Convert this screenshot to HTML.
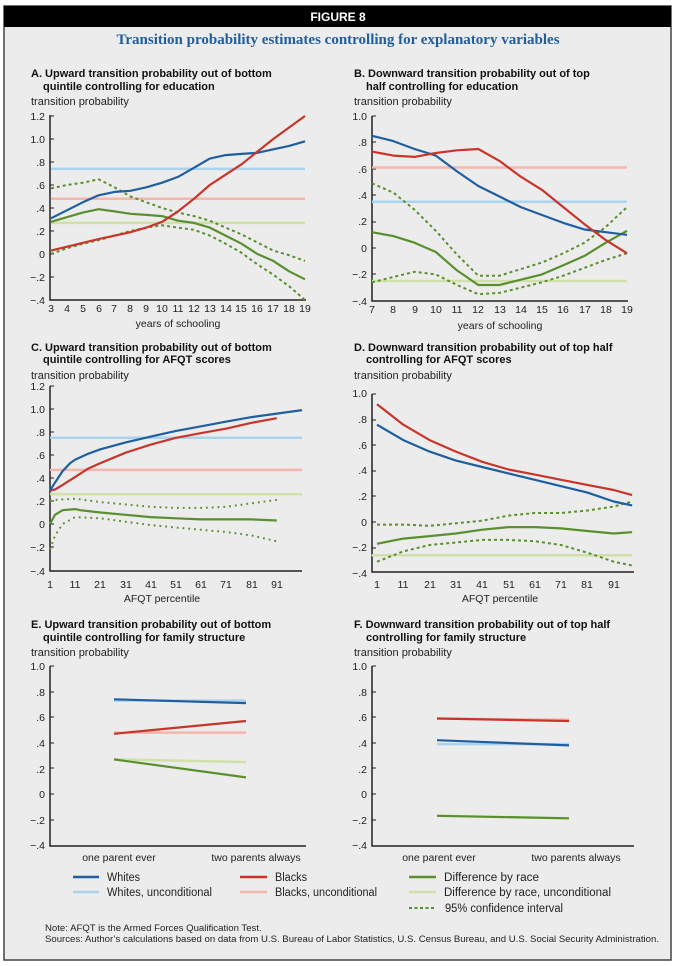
<!DOCTYPE html>
<html><head><meta charset="utf-8"><style>
body{margin:0;background:#fff}
svg{display:block;font-family:"Liberation Sans",Arial,sans-serif}
.t{font-size:11px;font-weight:bold;fill:#111}
.l{font-size:11px;fill:#222}
.y{font-size:10.5px;fill:#222;text-anchor:end}
.x{font-size:10.5px;fill:#222;text-anchor:middle}
</style></head><body>
<svg id="s" width="676" height="966" viewBox="0 0 676 966">
<rect x="4" y="6" width="667" height="954" fill="#ececec" stroke="#444" stroke-width="1.5"/>
<rect x="4" y="6" width="667" height="21" fill="#000"/>
<text x="338" y="21" text-anchor="middle" style="font-size:12px;font-weight:bold;fill:#fff">FIGURE 8</text>
<text x="338" y="44" text-anchor="middle" style="font-family:'Liberation Serif',serif;font-size:15px;font-weight:bold;fill:#1f5fa0">Transition probability estimates controlling for explanatory variables</text>

<text class="t" x="31" y="77">A. Upward transition probability out of bottom</text>
<text class="t" x="43" y="90">quintile controlling for education</text>
<text class="l" x="31" y="105">transition probability</text>
<text class="t" x="354" y="77">B. Downward transition probability out of top</text>
<text class="t" x="366" y="90">half controlling for education</text>
<text class="l" x="354" y="105">transition probability</text>
<text class="t" x="31" y="351">C. Upward transition probability out of bottom</text>
<text class="t" x="43" y="363">quintile controlling for AFQT scores</text>
<text class="l" x="31" y="379">transition probability</text>
<text class="t" x="354" y="351">D. Downward transition probability out of top half</text>
<text class="t" x="366" y="363">controlling for AFQT scores</text>
<text class="l" x="354" y="379">transition probability</text>
<text class="t" x="31" y="628">E. Upward transition probability out of bottom</text>
<text class="t" x="43" y="641">quintile controlling for family structure</text>
<text class="l" x="31" y="656">transition probability</text>
<text class="t" x="354" y="628">F. Downward transition probability out of top half</text>
<text class="t" x="366" y="641">controlling for family structure</text>
<text class="l" x="354" y="656">transition probability</text>

<g class="y"><text x="45" y="120">1.2</text><text x="45" y="143">1.0</text><text x="45" y="166">.8</text><text x="45" y="189">.6</text><text x="45" y="212">.4</text><text x="45" y="235">.2</text><text x="45" y="258">0</text><text x="45" y="281">−.2</text><text x="45" y="304">−.4</text></g>
<g class="x"><text x="51" y="312">3</text><text x="67" y="312">4</text><text x="83" y="312">5</text><text x="99" y="312">6</text><text x="114" y="312">7</text><text x="130" y="312">8</text><text x="146" y="312">9</text><text x="162" y="312">10</text><text x="178" y="312">11</text><text x="194" y="312">12</text><text x="210" y="312">13</text><text x="226" y="312">14</text><text x="241" y="312">15</text><text x="257" y="312">16</text><text x="273" y="312">17</text><text x="289" y="312">18</text><text x="305" y="312">19</text><text x="178" y="327">years of schooling</text></g>
<g class="y"><text x="367" y="120">1.0</text><text x="367" y="146">.8</text><text x="367" y="173">.6</text><text x="367" y="199">.4</text><text x="367" y="225">.2</text><text x="367" y="252">0</text><text x="367" y="278">−.2</text><text x="367" y="305">−.4</text></g>
<g class="x"><text x="372" y="313">7</text><text x="393" y="313">8</text><text x="415" y="313">9</text><text x="436" y="313">10</text><text x="457" y="313">11</text><text x="478" y="313">12</text><text x="500" y="313">13</text><text x="521" y="313">14</text><text x="542" y="313">15</text><text x="563" y="313">16</text><text x="585" y="313">17</text><text x="606" y="313">18</text><text x="627" y="313">19</text><text x="500" y="329">years of schooling</text></g>
<g class="y"><text x="45" y="390">1.2</text><text x="45" y="413">1.0</text><text x="45" y="436">.8</text><text x="45" y="459">.6</text><text x="45" y="482">.4</text><text x="45" y="505">.2</text><text x="45" y="528">0</text><text x="45" y="551">−.2</text><text x="45" y="575">−.4</text></g>
<g class="x"><text x="50" y="588">1</text><text x="75" y="588">11</text><text x="100" y="588">21</text><text x="126" y="588">31</text><text x="151" y="588">41</text><text x="176" y="588">51</text><text x="201" y="588">61</text><text x="226" y="588">71</text><text x="252" y="588">81</text><text x="277" y="588">91</text><text x="162" y="602">AFQT percentile</text></g>
<g class="y"><text x="367" y="397">1.0</text><text x="367" y="423">.8</text><text x="367" y="449">.6</text><text x="367" y="474">.4</text><text x="367" y="500">.2</text><text x="367" y="526">0</text><text x="367" y="551">−.2</text><text x="367" y="577">−.4</text></g>
<g class="x"><text x="377" y="588">1</text><text x="403" y="588">11</text><text x="430" y="588">21</text><text x="456" y="588">31</text><text x="482" y="588">41</text><text x="509" y="588">51</text><text x="535" y="588">61</text><text x="561" y="588">71</text><text x="587" y="588">81</text><text x="614" y="588">91</text><text x="500" y="602">AFQT percentile</text></g>
<g class="y"><text x="45" y="670">1.0</text><text x="45" y="696">.8</text><text x="45" y="721">.6</text><text x="45" y="747">.4</text><text x="45" y="773">.2</text><text x="45" y="798">0</text><text x="45" y="824">−.2</text><text x="45" y="849">−.4</text></g>
<g class="x"><text x="119" y="861">one parent ever</text><text x="256" y="861">two parents always</text></g>
<g class="y"><text x="367" y="670">1.0</text><text x="367" y="696">.8</text><text x="367" y="721">.6</text><text x="367" y="747">.4</text><text x="367" y="773">.2</text><text x="367" y="798">0</text><text x="367" y="824">−.2</text><text x="367" y="849">−.4</text></g>
<g class="x"><text x="439" y="861">one parent ever</text><text x="576" y="861">two parents always</text></g>

<g stroke-width="2.5">
<line x1="73" y1="877" x2="99" y2="877" stroke="#1f5fa0"/>
<line x1="73" y1="892" x2="99" y2="892" stroke="#a9d3ef"/>
<line x1="240" y1="877" x2="267" y2="877" stroke="#c8352b"/>
<line x1="240" y1="892" x2="267" y2="892" stroke="#f4b6ad"/>
<line x1="409" y1="877" x2="436" y2="877" stroke="#5a8f2e"/>
<line x1="409" y1="892" x2="436" y2="892" stroke="#cfe0a8"/>
<line x1="409" y1="908" x2="436" y2="908" stroke="#5a8f2e" stroke-width="2" stroke-dasharray="3,2.5"/>
</g>
<g class="l" style="font-size:11.5px">
<text x="107" y="881" textLength="33" lengthAdjust="spacingAndGlyphs">Whites</text>
<text x="107" y="896" textLength="105" lengthAdjust="spacingAndGlyphs">Whites, unconditional</text>
<text x="275" y="881" textLength="32" lengthAdjust="spacingAndGlyphs">Blacks</text>
<text x="275" y="896" textLength="102" lengthAdjust="spacingAndGlyphs">Blacks, unconditional</text>
<text x="444" y="881" textLength="95" lengthAdjust="spacingAndGlyphs">Difference by race</text>
<text x="444" y="896" textLength="167" lengthAdjust="spacingAndGlyphs">Difference by race, unconditional</text>
<text x="445" y="912" textLength="118" lengthAdjust="spacingAndGlyphs">95% confidence interval</text>
</g>
<text x="45" y="931" style="font-size:9.6px;fill:#222">Note: AFQT is the Armed Forces Qualification Test.</text>
<text x="45" y="942" textLength="614" lengthAdjust="spacingAndGlyphs" style="font-size:9.6px;fill:#222">Sources: Author’s calculations based on data from U.S. Bureau of Labor Statistics, U.S. Census Bureau, and U.S. Social Security Administration.</text>
<g id="g"></g>
</svg>
<script>
const B='#1f5fa0',R='#c8352b',G='#5a8f2e',LB='#a9d3ef',LR='#f4b6ad',LG='#cfe0a8';
let out='';
function axes(x0,yt,yb,xr,ys){out+=`<path d="M${x0} ${yt}V${yb}H${xr}" fill="none" stroke="#222" stroke-width="1.5"/>`;
 ys.forEach(y=>out+=`<line x1="${x0}" y1="${y}" x2="${x0+4}" y2="${y}" stroke="#222" stroke-width="1"/>`);}
function line(pts,fx,fy,c,w,dash){const d=pts.map((p,i)=>(i?'L':'M')+fx(p[0]).toFixed(1)+' '+fy(p[1]).toFixed(1)).join('');
 out+=`<path d="${d}" fill="none" stroke="${c}" stroke-width="${w}" stroke-linejoin="round" ${dash?'stroke-dasharray="'+dash+'"':''}/>`;}
function arr(o,a){return a.map((v,i)=>[o+i,v]);}
function P(a){const r=[];for(let i=0;i<a.length;i+=2)r.push([a[i],a[i+1]]);return r;}
{const fx=t=>51+(t-3)*15.875,fy=v=>254-v*115;
axes(50,115,300,306,[116,139,162,185,208,231,254,277]);
line([[3,.74],[19,.74]],fx,fy,LB,2.5);line([[3,.48],[19,.48]],fx,fy,LR,2.5);line([[3,.27],[19,.27]],fx,fy,LG,2.5);
line(arr(3,[.57,.60,.62,.65,.58,.50,.45,.40,.36,.33,.29,.23,.17,.10,.03,-.01,-.06]),fx,fy,G,2,'3,3');
line(arr(3,[0,.05,.09,.12,.16,.20,.23,.25,.23,.21,.16,.09,.01,-.09,-.18,-.28,-.4]),fx,fy,G,2,'3,3');
line(arr(3,[.28,.32,.36,.39,.37,.35,.34,.33,.29,.27,.23,.16,.09,0,-.06,-.15,-.22]),fx,fy,G,2.2);
line(arr(3,[.31,.38,.45,.51,.54,.55,.58,.62,.67,.75,.83,.86,.87,.88,.91,.94,.98]),fx,fy,B,2.2);
line(P([3,.03,6,.13,8,.19,9,.23,10,.28,11,.37,12,.48,13,.60,14,.69,15,.78,16,.89,17,1.0,18,1.1,19,1.2]),fx,fy,R,2.2);}
{const fx=t=>372+(t-7)*21.25,fy=v=>248-v*132;
axes(372,116,301,628,[116,142,169,195,222,248,274]);
line([[7,.61],[19,.61]],fx,fy,LR,2.5);line([[7,.35],[19,.35]],fx,fy,LB,2.5);line([[7,-.25],[19,-.25]],fx,fy,LG,2.5);
line(arr(7,[.49,.42,.29,.13,-.05,-.21,-.21,-.16,-.11,-.04,.04,.16,.31]),fx,fy,G,2,'3,3');
line(arr(7,[-.26,-.22,-.18,-.2,-.28,-.35,-.34,-.30,-.26,-.21,-.15,-.09,-.04]),fx,fy,G,2,'3,3');
line(arr(7,[.12,.09,.04,-.03,-.17,-.28,-.28,-.24,-.20,-.13,-.06,.04,.13]),fx,fy,G,2.2);
line(arr(7,[.85,.81,.75,.70,.58,.47,.39,.31,.25,.19,.14,.12,.10]),fx,fy,B,2.2);
line(arr(7,[.73,.70,.69,.72,.74,.75,.66,.54,.44,.31,.18,.06,-.04]),fx,fy,R,2.2);}
{const fx=p=>50+(p-1)*2.52,fy=v=>524-v*115;
axes(50,386,571,302,[386,409,432,455,478,501,524,547]);
line([[1,.75],[101,.75]],fx,fy,LB,2.5);line([[1,.47],[101,.47]],fx,fy,LR,2.5);line([[1,.26],[101,.26]],fx,fy,LG,2.5);
line(P([1,.2,3,.21,11,.22,21,.19,31,.17,41,.15,51,.14,61,.14,71,.15,81,.18,91,.21]),fx,fy,G,2,'1.8,4');
line(P([1,-.22,3,-.1,6,0,11,.06,21,.05,31,.02,41,-.01,51,-.03,61,-.05,71,-.07,81,-.1,91,-.15]),fx,fy,G,2,'1.8,4');
line(P([1,0,3,.08,6,.12,11,.13,13,.12,21,.10,31,.08,41,.06,51,.05,61,.04,81,.04,91,.03]),fx,fy,G,2.2);
line(P([1,.29,3,.30,6,.34,11,.41,16,.48,21,.53,31,.62,41,.69,51,.75,61,.79,71,.83,81,.88,91,.92]),fx,fy,R,2.2);
line(P([1,.29,3,.36,6,.46,9,.53,11,.56,16,.61,21,.65,31,.71,41,.76,51,.81,61,.85,71,.89,81,.93,91,.96,101,.99]),fx,fy,B,2.2);}
{const fx=p=>377+(p-1)*2.63,fy=v=>522-v*128;
axes(372,394,572,634,[394,420,445,471,496,522,548]);
line([[-1,-.26],[98,-.26]],fx,fy,LG,2.5);
line(P([1,-.02,11,-.02,21,-.03,31,-.01,41,.01,51,.05,61,.07,71,.07,81,.09,91,.12,98,.16]),fx,fy,G,2,'3,3');
line(P([1,-.31,11,-.23,21,-.18,31,-.16,41,-.14,51,-.14,61,-.15,71,-.18,81,-.24,91,-.31,98,-.34]),fx,fy,G,2,'3,3');
line(P([1,-.17,11,-.13,21,-.11,31,-.09,41,-.06,51,-.04,61,-.04,71,-.05,81,-.07,91,-.09,98,-.08]),fx,fy,G,2.2);
line(P([1,.92,11,.76,21,.64,31,.55,41,.47,51,.41,61,.37,71,.33,81,.29,91,.25,98,.21]),fx,fy,R,2.2);
line(P([1,.76,11,.64,21,.55,31,.48,41,.43,51,.38,61,.33,71,.28,81,.23,91,.16,98,.13]),fx,fy,B,2.2);}
{const fx=t=>t,fy=v=>794-v*128;
axes(50,666,846,306,[666,692,717,743,768,794,820]);
line([[114,.73],[246,.73]],fx,fy,LB,2.5);line([[114,.48],[246,.48]],fx,fy,LR,2.5);line([[114,.27],[246,.25]],fx,fy,LG,2.5);
line([[114,.74],[246,.71]],fx,fy,B,2.2);line([[114,.47],[246,.57]],fx,fy,R,2.2);line([[114,.27],[246,.13]],fx,fy,G,2.2);}
{const fx=t=>t,fy=v=>794-v*128;
axes(372,666,846,634,[666,692,717,743,768,794,820]);
line([[437,.59],[569,.58]],fx,fy,LR,2.5);line([[437,.39],[569,.39]],fx,fy,LB,2.5);line([[437,-.17],[569,-.19]],fx,fy,LG,2.5);
line([[437,.59],[569,.57]],fx,fy,R,2.2);line([[437,.42],[569,.38]],fx,fy,B,2.2);line([[437,-.17],[569,-.19]],fx,fy,G,2.2);}
document.getElementById('g').innerHTML=out;
</script>
</body></html>
